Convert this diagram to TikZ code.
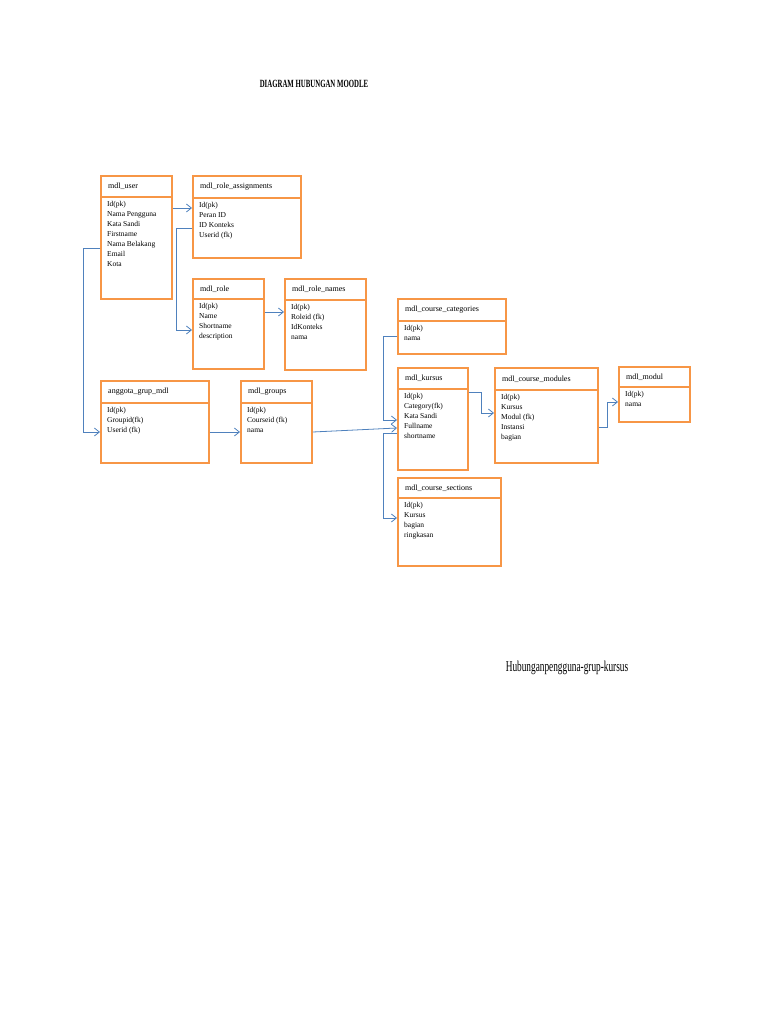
\documentclass[tikz,border=0pt]{standalone}
\usepackage{fontspec}
\setmainfont{Liberation Serif}
\usetikzlibrary{arrows.meta}
\definecolor{bord}{HTML}{F79646}
\definecolor{conn}{HTML}{4F81BD}
\tikzset{
 box/.style={draw=bord,line width=1.8pt,inner sep=0pt,anchor=north west},
 hdr/.style={anchor=west,font=\fontsize{8}{9}\selectfont,inner sep=0pt},
 fld/.style={anchor=north west,align=left,font=\fontsize{7.5}{10}\selectfont,inner sep=0pt},
 link/.style={draw=conn,line width=0.8pt,-{Straight Barb[length=5pt,width=8pt]}},
 plain/.style={draw=conn,line width=0.8pt}
}
\newcommand{\tbl}[8]{% name, x1, x2, ytop, ymid, ybot, header, fields
 \node[box,minimum width=#3pt-#2pt,minimum height=#5pt-#4pt] (#1h) at (#2,#4) {};
 \node[box,minimum width=#3pt-#2pt,minimum height=#6pt-#5pt] (#1) at (#2,#5) {};
 \node[hdr] (#1t) at ([xshift=8pt]#1h.west) {#7};
 \node[fld] (#1f) at ([xshift=7pt,yshift=-5pt]#1.north west) {#8};
}
\begin{document}
\begin{tikzpicture}[x=1pt,y=-1pt]
\useasboundingbox (0,0) rectangle (768,1024);
\node[font=\bfseries\fontsize{11}{12}\selectfont] (title) at (314,84) {\scalebox{0.62}[1]{DIAGRAM HUBUNGAN MOODLE}};
\node[font=\fontsize{15}{16}\selectfont] (sub) at (567,668) {\scalebox{0.62}[1]{Hubunganpengguna-grup-kursus}};
\tbl{user}{100}{171}{175}{196}{298}{mdl\_user}{Id(pk)\\Nama Pengguna\\Kata Sandi\\Firstname\\Nama Belakang\\Email\\Kota}
\tbl{ra}{192}{300}{175}{197}{257}{mdl\_role\_assignments}{Id(pk)\\Peran ID\\ID Konteks\\Userid (fk)}
\tbl{role}{192}{263}{278}{298}{368}{mdl\_role}{Id(pk)\\Name\\Shortname\\description}
\tbl{rn}{284}{365}{278}{299}{369}{mdl\_role\_names}{Id(pk)\\Roleid (fk)\\IdKonteks\\nama}
\tbl{ag}{100}{208}{380}{402}{462}{anggota\_grup\_mdl}{Id(pk)\\Groupid(fk)\\Userid (fk)}
\tbl{gr}{240}{311}{380}{402}{462}{mdl\_groups}{Id(pk)\\Courseid (fk)\\nama}
\tbl{cc}{397}{505}{298}{320}{353}{mdl\_course\_categories}{Id(pk)\\nama}
\tbl{ku}{397}{467}{367}{388}{469}{mdl\_kursus}{Id(pk)\\Category(fk)\\Kata Sandi\\Fullname\\shortname}
\tbl{cm}{494}{597}{367}{389}{462}{mdl\_course\_modules}{Id(pk)\\Kursus\\Modul (fk)\\Instansi\\bagian}
\tbl{mo}{618}{689}{366}{386}{421}{mdl\_modul}{Id(pk)\\nama}
\tbl{cs}{397}{500}{477}{497}{565}{mdl\_course\_sections}{Id(pk)\\Kursus\\bagian\\ringkasan}
% connectors
\draw[link] (user.east |- 0,208) -- (ra.west |- 0,208);
\draw[link] (ra.west |- 0,228) -- (176,228) -- (176,330) -- (role.west |- 0,330);
\draw[link] (role.east |- 0,312) -- (rn.west |- 0,312);
\draw[link] (user.west |- 0,248) -- (83,248) -- (83,432) -- (ag.west |- 0,432);
\draw[link] (ag.east |- 0,432) -- (gr.west |- 0,432);
\draw[link] (gr.east |- 0,432) -- (ku.west |- 0,428);
\draw[link] (cc.west |- 0,336) -- (383,336) -- (383,420) -- (ku.west |- 0,420);
\draw[link] (ku.west |- 0,433) -- (383,433) -- (383,518) -- (cs.west |- 0,518);
\draw[link] (ku.east |- 0,392) -- (481,392) -- (481,413) -- (cm.west |- 0,413);
\draw[link] (cm.east |- 0,427) -- (607,427) -- (607,402) -- (mo.west |- 0,402);
\end{tikzpicture}
\end{document}
